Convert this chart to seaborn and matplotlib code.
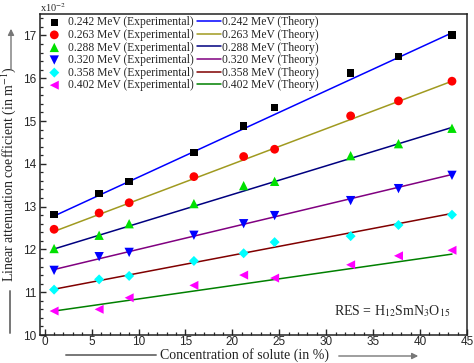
import matplotlib
matplotlib.use('Agg')
import matplotlib.pyplot as plt
from matplotlib.ticker import MultipleLocator
import pandas as pd
import seaborn as sns

# concentration of solute (in %)
conc = [1.0, 5.8, 9.0, 15.9, 21.2, 24.5, 32.6, 37.7, 43.4]

energies = ['0.242', '0.263', '0.288', '0.320', '0.358', '0.402']

# experimental linear attenuation coefficients (x10^-2 m^-1)
exp_242 = [12.81, 13.30, 13.58, 14.26, 14.88, 15.32, 16.12, 16.51, 17.01]
exp_263 = [12.47, 12.85, 13.09, 13.70, 14.17, 14.34, 15.12, 15.47, 15.93]
exp_288 = [12.02, 12.33, 12.60, 13.07, 13.49, 13.59, 14.19, 14.47, 14.83]
exp_320 = [11.51, 11.83, 11.93, 12.33, 12.60, 12.79, 13.14, 13.42, 13.73]
exp_358 = [11.06, 11.30, 11.38, 11.73, 11.91, 12.17, 12.31, 12.57, 12.81]
exp_402 = [10.56, 10.60, 10.87, 11.16, 11.40, 11.33, 11.64, 11.85, 11.98]

# theory lines (end points)
theory_x = [1.0, 43.4]
th_242 = [12.78, 17.06]
th_263 = [12.42, 15.93]
th_288 = [12.01, 14.85]
th_320 = [11.53, 13.75]
th_358 = [11.07, 12.84]
th_402 = [10.56, 11.89]

exp_vals = [exp_242, exp_263, exp_288, exp_320, exp_358, exp_402]
th_vals = [th_242, th_263, th_288, th_320, th_358, th_402]

marker_colors = ['black', '#ff0000', '#00e000', '#0000ff', '#00ffff', '#ff00ff']
markers = ['s', 'o', '^', 'v', 'D', '<']
marker_sizes = [28, 40, 45, 45, 26, 42]
line_colors = ['#0000ff', '#a09a20', '#000080', '#800080', '#800000', '#008000']

sns.set_style('ticks')
plt.rcParams['font.family'] = ['Liberation Serif', 'DejaVu Serif']
plt.rcParams['mathtext.fontset'] = 'stix'

fig = plt.figure(figsize=(4.74, 3.63), dpi=100)
ax = fig.add_axes([40 / 474, 28 / 363, 427 / 474, 321 / 363])

for i, e in enumerate(energies):
    df = pd.DataFrame({'x': conc, 'y': exp_vals[i]})
    sns.scatterplot(data=df, x='x', y='y', ax=ax, marker=markers[i],
                    color=marker_colors[i], s=marker_sizes[i], edgecolor='none',
                    label=f'{e} MeV (Experimental)', zorder=3)
for i, e in enumerate(energies):
    df = pd.DataFrame({'x': theory_x, 'y': th_vals[i]})
    sns.lineplot(data=df, x='x', y='y', ax=ax, color=line_colors[i],
                 linewidth=1.1, label=f'{e} MeV (Theory)', zorder=2)

ax.set_xlim(-0.5, 45)
ax.set_ylim(10, 17.5)
ax.xaxis.set_major_locator(MultipleLocator(5))
ax.xaxis.set_minor_locator(MultipleLocator(1))
ax.yaxis.set_major_locator(MultipleLocator(1))
ax.yaxis.set_minor_locator(MultipleLocator(0.2))
ax.tick_params(which='major', direction='in', length=4.5, width=1,
               labelsize=8.5, pad=2.5)
ax.tick_params(axis='x', which='major', pad=1)
ax.tick_params(which='minor', direction='in', length=2.5, width=0.9)
for lab in ax.get_xticklabels() + ax.get_yticklabels():
    lab.set_family('Liberation Sans')
for sp in ax.spines.values():
    sp.set_linewidth(1.1)
    sp.set_color('#222222')

ax.set_xlabel('Concentration of solute (in %)', fontsize=10, color='#222222')
ax.set_ylabel('Linear attenuation coefficient (in m$^{-1}$)', fontsize=10,
              color='#222222')
ax.xaxis.set_label_coords(0.48, -0.042)
ax.yaxis.set_label_coords(-0.052, 0.5)

ax.text(0.0, 1.005, 'x10$^{-2}$', transform=ax.transAxes, fontsize=7.5,
        ha='left', va='baseline')
ax.text(0.96, 0.075, 'RES = H$_{12}$SmN$_3$O$_{15}$', transform=ax.transAxes,
        fontsize=10, ha='right', va='center')

ax.legend(ncol=2, loc='upper left', frameon=False, fontsize=8.4,
          handlelength=2.05, handletextpad=0.15, columnspacing=0.25,
          labelspacing=0.05, borderaxespad=0.05, borderpad=0.15)

# decorative arrows on axis labels
gray = '#777777'
fig.add_artist(plt.Line2D([66, 156], [8, 8], transform=None, color=gray, lw=1.4))
ax.annotate('', xy=(421, 7), xytext=(336, 7), xycoords='figure pixels',
            arrowprops=dict(arrowstyle='-|>', color=gray, lw=1.0,
                            mutation_scale=9))
fig.add_artist(plt.Line2D([10, 10], [30, 72], transform=None, color=gray, lw=1.4))
ax.annotate('', xy=(11, 337), xytext=(11, 291), xycoords='figure pixels',
            arrowprops=dict(arrowstyle='-|>', color=gray, lw=1.0,
                            mutation_scale=9))

fig.savefig('out.png', dpi=100)
